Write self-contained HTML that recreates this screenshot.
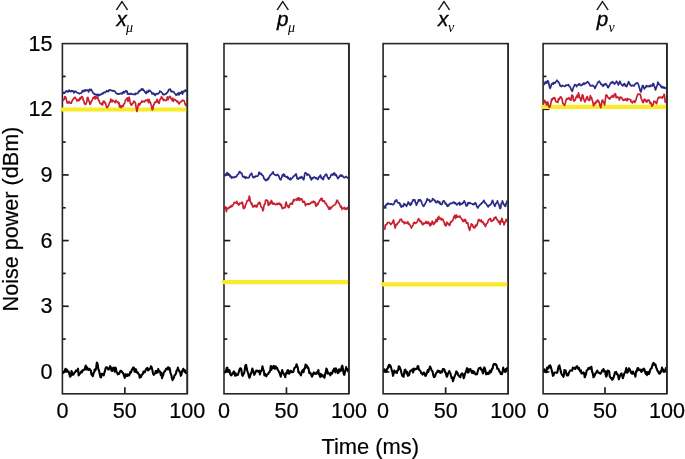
<!DOCTYPE html>
<html><head><meta charset="utf-8"><title>Noise power</title><style>
html,body{margin:0;padding:0;background:#fff;overflow:hidden;}
svg{display:block;filter:blur(0.4px);}
.t{font-family:"Liberation Sans",Arial,sans-serif;font-size:21.6px;fill:#000;stroke:#000;stroke-width:0.2px;}
.ti{font-family:"Liberation Sans",Arial,sans-serif;font-style:italic;font-size:20.6px;fill:#000;stroke:#000;stroke-width:0.35px;}
.hat{font-family:"Noto Sans CJK JP",sans-serif;font-size:15.5px;fill:#000;stroke:#000;stroke-width:0.35px;}
.sub{font-family:"Liberation Serif","Times New Roman",serif;font-style:italic;font-size:14px;fill:#000;}
.fr{fill:none;stroke:#262626;stroke-width:1.6px;}
.tk{stroke:#1e1e1e;stroke-width:1.7px;}
.yl{stroke:#f9eb28;stroke-width:4.2px;stroke-linecap:butt;}
.yc{fill:#f9eb28;}
.bl{fill:none;stroke:#2b2b85;stroke-width:1.7px;stroke-linejoin:round;}
.rd{fill:none;stroke:#c8202f;stroke-width:1.7px;stroke-linejoin:round;}
.bk{fill:none;stroke:#000;stroke-width:2.1px;stroke-linejoin:round;}
</style></head><body>
<svg width="685" height="459" viewBox="0 0 685 459">
<rect width="685" height="459" fill="#fff"/>
<rect x="62.40" y="43.60" width="124.90" height="350.20" class="fr"/>
<line x1="62.40" y1="371.91" x2="68.70" y2="371.91" class="tk"/>
<line x1="62.40" y1="339.08" x2="65.70" y2="339.08" class="tk"/>
<line x1="62.40" y1="306.25" x2="68.70" y2="306.25" class="tk"/>
<line x1="62.40" y1="273.42" x2="65.70" y2="273.42" class="tk"/>
<line x1="62.40" y1="240.59" x2="68.70" y2="240.59" class="tk"/>
<line x1="62.40" y1="207.76" x2="65.70" y2="207.76" class="tk"/>
<line x1="62.40" y1="174.93" x2="68.70" y2="174.93" class="tk"/>
<line x1="62.40" y1="142.09" x2="65.70" y2="142.09" class="tk"/>
<line x1="62.40" y1="109.26" x2="68.70" y2="109.26" class="tk"/>
<line x1="62.40" y1="76.43" x2="65.70" y2="76.43" class="tk"/>
<line x1="62.40" y1="109.48" x2="187.30" y2="109.48" class="yl"/>
<circle cx="62.40" cy="109.48" r="2.1" class="yc"/>
<polyline points="62.70,93.64 62.89,93.64 63.47,92.51 64.05,93.09 64.62,93.08 65.20,91.78 65.78,91.71 66.36,90.79 66.94,91.44 67.52,91.65 68.09,91.91 68.67,90.39 69.25,90.23 69.83,91.33 70.41,91.07 70.98,91.60 71.56,90.55 72.16,91.35 72.77,90.90 73.37,91.00 73.97,92.93 74.57,91.40 75.18,91.31 75.78,91.30 76.38,92.19 76.96,92.54 77.54,92.86 78.11,92.85 78.69,93.31 79.27,93.64 79.91,93.40 80.55,93.25 81.20,93.09 81.84,92.16 82.48,90.54 83.12,91.23 83.73,91.53 84.33,90.13 84.93,90.76 85.53,89.85 86.14,90.63 86.74,90.03 87.34,90.51 87.94,90.26 88.58,91.94 89.23,89.59 89.87,89.30 90.51,90.29 91.15,89.46 91.80,90.74 92.44,91.53 93.08,93.07 93.72,93.64 94.30,93.87 94.88,94.44 95.46,94.56 96.04,94.18 96.61,95.08 97.26,95.34 97.90,94.43 98.54,95.97 99.18,94.45 99.82,95.09 100.47,94.60 101.11,94.20 101.75,94.37 102.39,93.03 103.04,93.60 103.68,92.52 104.32,92.19 104.90,92.71 105.48,92.09 106.06,91.55 106.63,90.75 107.21,91.45 107.79,91.03 108.37,91.50 108.95,90.03 109.52,90.36 110.10,89.78 110.74,90.33 111.39,90.43 112.03,90.63 112.67,90.85 113.31,90.62 113.96,91.23 114.60,91.01 115.24,91.79 115.88,92.79 116.53,93.75 117.17,93.82 117.81,93.64 118.45,94.19 119.09,93.94 119.74,93.82 120.38,93.42 121.02,93.70 121.66,93.15 122.26,93.88 122.86,92.27 123.46,91.70 124.06,92.96 124.66,91.58 125.26,91.68 125.85,90.74 126.43,91.85 127.01,91.21 127.59,93.95 128.17,94.13 128.74,93.64 129.32,93.84 129.90,94.28 130.48,94.00 131.06,93.49 131.64,94.12 132.24,93.99 132.84,94.22 133.44,94.61 134.04,94.31 134.65,93.85 135.25,94.58 135.85,93.24 136.45,93.64 137.03,93.73 137.61,93.54 138.19,92.30 138.76,91.01 139.34,91.71 139.95,90.39 140.55,90.31 141.15,89.71 141.75,88.62 142.35,90.09 142.96,89.08 143.56,90.22 144.16,90.74 144.80,92.10 145.45,92.58 146.09,93.64 146.69,91.36 147.29,92.44 147.89,92.50 148.50,90.26 149.10,91.23 149.70,90.43 150.30,91.10 150.91,91.71 151.51,92.20 152.11,93.94 152.71,93.17 153.31,93.22 153.92,94.46 154.52,93.83 155.12,95.36 155.72,94.60 156.32,93.82 156.93,93.59 157.53,93.95 158.13,94.02 158.73,93.19 159.34,92.61 159.94,90.97 160.54,91.71 161.12,91.85 161.70,92.49 162.27,93.12 162.85,94.38 163.43,94.60 164.01,94.20 164.59,94.69 165.16,94.07 165.74,93.63 166.32,93.64 166.90,92.84 167.48,92.16 168.06,91.55 168.63,89.88 169.21,89.30 169.79,89.54 170.37,89.25 170.95,91.43 171.52,91.72 172.10,91.23 172.68,91.60 173.26,91.90 173.84,91.92 174.41,93.26 174.99,93.64 175.57,93.95 176.15,95.34 176.73,94.36 177.31,93.94 177.88,94.60 178.46,92.83 179.04,94.87 179.62,93.85 180.20,92.47 180.77,93.15 181.35,92.88 181.93,91.41 182.51,94.10 183.09,92.29 183.66,91.23 184.24,91.57 184.82,91.12 185.40,89.93 185.98,91.15 186.55,91.23 187.00,91.23" class="bl"/>
<polyline points="62.70,100.38 62.89,100.38 63.53,99.87 64.18,99.11 64.82,96.53 65.40,96.93 65.97,97.99 66.55,100.37 67.13,102.87 67.71,102.31 68.29,102.92 68.86,101.58 69.44,102.16 70.02,103.05 70.60,103.27 71.24,103.26 71.88,101.36 72.53,100.06 73.17,99.22 73.81,98.65 74.45,97.49 75.09,97.28 75.74,98.48 76.38,99.22 77.02,101.04 77.66,99.87 78.31,100.38 78.95,100.71 79.59,98.13 80.23,99.32 80.88,98.00 81.52,96.68 82.16,96.53 82.74,98.07 83.32,100.51 83.89,100.87 84.47,103.72 85.05,104.23 85.63,104.39 86.21,103.14 86.79,101.79 87.36,97.64 87.94,97.49 88.58,100.10 89.23,101.36 89.87,104.23 90.45,104.03 91.02,102.03 91.60,101.02 92.18,100.09 92.76,98.45 93.34,97.53 93.92,97.81 94.49,96.63 95.07,98.97 95.65,96.53 96.23,96.89 96.81,98.12 97.38,97.16 97.96,98.21 98.54,100.38 99.12,100.37 99.70,102.73 100.27,103.48 100.85,103.77 101.43,104.23 102.01,103.07 102.59,104.91 103.16,101.54 103.74,101.13 104.32,101.34 104.90,103.10 105.48,102.92 106.06,105.40 106.63,107.33 107.21,107.61 107.79,106.51 108.37,105.92 108.95,104.50 109.52,102.75 110.10,102.31 110.74,99.10 111.39,100.83 112.03,101.85 112.67,100.10 113.31,100.99 113.96,101.34 114.60,101.66 115.24,102.84 115.88,100.29 116.53,101.18 117.17,102.00 117.81,101.82 118.39,103.43 118.97,102.63 119.54,106.85 120.12,105.30 120.70,107.12 121.28,107.64 121.86,105.81 122.44,105.82 123.01,106.47 123.59,104.23 124.24,103.90 124.88,102.28 125.53,100.11 126.17,99.39 126.82,98.93 127.40,97.77 127.97,101.33 128.55,98.03 129.13,97.22 129.71,99.90 130.35,103.31 130.99,104.71 131.64,105.20 132.28,103.59 132.92,103.48 133.56,101.34 134.20,101.21 134.85,102.10 135.49,103.27 136.21,107.89 136.93,111.46 137.66,108.27 138.38,104.23 138.96,103.43 139.54,105.09 140.11,103.83 140.69,102.86 141.27,102.31 141.91,100.94 142.55,101.99 143.20,101.31 143.84,101.30 144.48,101.92 145.12,100.86 145.70,100.04 146.28,100.58 146.86,100.81 147.44,100.09 148.01,99.42 148.59,102.66 149.17,99.66 149.75,102.28 150.33,102.14 150.91,104.23 151.55,105.80 152.19,109.95 152.83,109.05 153.47,105.22 154.12,104.30 154.76,102.31 155.34,102.59 155.92,101.66 156.49,102.08 157.07,99.27 157.65,100.38 158.37,102.81 159.09,103.27 159.70,100.67 160.30,98.73 160.90,98.80 161.50,96.53 162.15,98.31 162.79,98.41 163.43,100.38 164.01,99.60 164.59,100.21 165.16,100.40 165.74,100.24 166.32,100.38 166.90,98.73 167.48,96.77 168.06,99.67 168.63,97.88 169.21,97.01 169.79,96.49 170.37,96.84 170.95,98.37 171.52,99.32 172.10,100.38 172.68,98.11 173.26,101.39 173.84,100.24 174.41,99.31 174.99,99.42 175.57,100.17 176.15,100.43 176.73,101.64 177.31,101.13 177.88,101.34 178.53,103.09 179.17,103.85 179.81,102.79 180.45,102.02 181.09,101.40 181.74,101.34 182.38,100.17 183.02,100.49 183.66,100.38 184.31,101.29 184.95,103.62 185.59,105.20 186.30,105.51 187.00,105.20" class="rd"/>
<polyline points="62.70,372.93 62.89,372.93 63.53,372.72 64.18,371.37 64.82,370.53 65.46,368.77 66.10,371.03 66.74,369.56 67.39,370.58 68.03,371.30 68.67,371.49 69.39,374.37 70.12,376.79 70.84,375.92 71.56,371.01 72.20,373.33 72.85,374.84 73.49,374.38 74.13,373.23 74.77,372.22 75.42,371.97 76.06,370.36 76.70,371.04 77.34,371.01 77.99,368.67 78.63,375.37 79.27,374.38 79.91,373.62 80.55,372.59 81.20,371.49 81.84,372.31 82.48,370.39 83.12,370.53 83.77,369.91 84.41,369.63 85.05,367.64 85.69,365.48 86.34,369.58 86.98,367.15 87.62,368.33 88.26,369.90 88.91,370.04 89.55,368.89 90.19,369.59 90.83,370.53 91.47,374.67 92.12,373.72 92.76,376.31 93.40,373.56 94.04,372.45 94.69,369.56 95.41,370.48 96.13,367.64 96.85,362.60 97.58,363.78 98.30,369.09 99.02,370.53 99.74,374.27 100.47,377.27 101.11,377.33 101.75,373.73 102.39,373.90 103.04,374.00 103.68,375.37 104.32,372.93 104.96,370.91 105.61,368.29 106.25,367.15 106.89,367.42 107.53,368.10 108.18,369.56 108.82,369.50 109.46,367.60 110.10,366.19 110.74,367.18 111.39,370.45 112.03,371.01 112.67,368.81 113.31,367.57 113.96,368.60 114.60,371.65 115.24,367.48 115.88,368.12 116.53,372.34 117.17,372.20 117.81,374.38 118.45,373.48 119.09,373.80 119.74,372.45 120.38,371.05 121.02,370.74 121.66,371.49 122.31,372.21 122.95,372.94 123.59,374.38 124.16,375.82 124.72,377.90 125.29,374.33 125.85,376.31 126.50,374.55 127.14,376.03 127.78,374.38 128.42,374.91 129.07,375.54 129.71,373.90 130.35,371.84 130.99,372.45 131.64,370.53 132.36,369.04 133.08,367.64 133.80,367.48 134.53,371.49 135.17,371.94 135.81,369.16 136.45,371.01 137.09,372.70 137.74,372.37 138.38,373.90 139.02,374.15 139.66,377.67 140.31,375.34 140.95,377.03 141.59,375.28 142.23,374.38 142.88,373.96 143.52,371.48 144.16,371.49 144.80,372.33 145.45,370.72 146.09,369.08 146.73,368.47 147.37,367.91 148.01,370.53 148.66,369.91 149.30,369.04 149.94,368.60 150.42,368.54 150.91,366.19 151.55,366.97 152.19,369.25 152.83,372.45 153.31,374.23 153.80,374.86 154.44,373.72 155.08,373.55 155.72,371.01 156.36,372.97 157.01,370.83 157.65,372.45 158.29,368.92 158.93,371.59 159.58,371.01 160.18,371.89 160.78,374.96 161.38,372.94 161.99,378.23 162.59,376.44 163.19,375.01 163.79,372.48 164.39,371.49 165.04,371.22 165.68,369.73 166.32,368.60 166.96,368.45 167.61,369.35 168.25,367.15 168.97,369.35 169.69,368.12 170.42,372.84 171.14,374.38 171.86,377.79 172.58,380.16 173.23,378.77 173.87,377.71 174.51,375.34 175.23,374.82 175.96,373.42 176.60,370.57 177.24,370.10 177.88,367.64 178.53,370.46 179.17,370.35 179.81,372.45 180.29,372.75 180.77,375.82 181.42,374.68 182.06,371.02 182.70,370.04 183.34,368.79 183.99,371.04 184.63,371.97 185.27,370.43 185.91,373.07 186.55,372.93 187.00,372.93" class="bk"/>
<line x1="187.30" y1="43.60" x2="187.30" y2="393.80" class="fr"/>
<line x1="124.85" y1="393.80" x2="124.85" y2="387.30" class="tk"/>
<text transform="translate(62.40,418.3) scale(1,1.030)" text-anchor="middle" class="t">0</text>
<text transform="translate(124.85,418.3) scale(1,1.030)" text-anchor="middle" class="t">50</text>
<text transform="translate(187.30,418.3) scale(1,1.030)" text-anchor="middle" class="t">100</text>
<text x="116.40" y="26" class="ti">x</text>
<text transform="translate(121.90,9.5) scale(1,0.76)" text-anchor="middle" class="hat">∧</text>
<text x="126.10" y="32.4" class="sub">μ</text>
<rect x="224.00" y="43.60" width="124.90" height="350.20" class="fr"/>
<line x1="224.00" y1="371.91" x2="230.30" y2="371.91" class="tk"/>
<line x1="224.00" y1="339.08" x2="227.30" y2="339.08" class="tk"/>
<line x1="224.00" y1="306.25" x2="230.30" y2="306.25" class="tk"/>
<line x1="224.00" y1="273.42" x2="227.30" y2="273.42" class="tk"/>
<line x1="224.00" y1="240.59" x2="230.30" y2="240.59" class="tk"/>
<line x1="224.00" y1="207.76" x2="227.30" y2="207.76" class="tk"/>
<line x1="224.00" y1="174.93" x2="230.30" y2="174.93" class="tk"/>
<line x1="224.00" y1="142.09" x2="227.30" y2="142.09" class="tk"/>
<line x1="224.00" y1="109.26" x2="230.30" y2="109.26" class="tk"/>
<line x1="224.00" y1="76.43" x2="227.30" y2="76.43" class="tk"/>
<line x1="224.00" y1="282.17" x2="348.90" y2="282.17" class="yl"/>
<circle cx="224.00" cy="282.17" r="2.1" class="yc"/>
<polyline points="224.30,175.98 224.72,175.98 225.27,174.45 225.81,174.81 226.36,173.85 226.90,173.08 227.45,172.71 227.99,173.84 228.53,173.84 229.08,174.18 229.62,174.89 230.17,176.80 230.71,176.23 231.26,176.58 231.80,178.16 232.46,177.00 233.11,177.19 233.76,177.58 234.42,177.37 235.07,176.52 235.61,176.81 236.16,176.83 236.70,176.34 237.25,174.89 237.79,174.48 238.34,174.08 238.88,172.86 239.43,171.62 239.97,171.71 240.51,172.97 241.06,172.91 241.60,173.26 242.15,174.25 242.69,176.68 243.24,176.52 243.78,177.13 244.33,176.48 244.87,176.84 245.42,178.42 245.96,177.07 246.50,177.06 247.05,177.77 247.59,177.81 248.14,177.85 248.68,177.61 249.23,177.14 249.77,175.61 250.32,174.75 250.86,174.06 251.41,173.26 251.95,174.16 252.50,175.96 253.04,177.50 253.58,177.61 254.13,176.83 254.67,177.44 255.22,176.23 255.76,176.52 256.31,176.00 256.85,176.14 257.40,176.22 257.94,175.98 258.49,174.66 259.03,172.24 259.57,172.71 260.12,174.03 260.66,173.45 261.21,173.66 261.75,174.91 262.30,174.89 262.84,175.65 263.39,176.23 263.93,178.49 264.48,179.25 265.02,179.81 265.56,179.32 266.11,180.61 266.65,180.34 267.20,179.92 267.74,178.31 268.29,179.40 268.83,177.61 269.47,176.90 270.10,175.14 270.74,175.20 271.37,174.09 272.01,173.70 272.64,172.17 273.19,171.92 273.73,173.93 274.28,174.41 274.82,174.81 275.37,174.89 275.91,175.16 276.46,175.46 277.00,174.96 277.54,174.35 278.20,175.55 278.85,176.04 279.50,178.33 280.16,179.34 280.81,179.79 281.36,178.37 281.90,176.65 282.45,174.89 282.99,175.69 283.53,174.03 284.08,176.10 284.62,174.70 285.17,176.52 285.87,176.70 286.57,177.21 287.27,176.52 287.81,178.37 288.36,177.57 288.90,178.78 289.45,179.13 289.99,179.79 290.53,178.02 291.08,179.40 291.62,178.51 292.17,178.12 292.71,177.61 293.37,176.30 294.02,176.09 294.67,175.41 295.33,175.38 295.98,173.80 296.52,175.37 297.07,178.69 297.61,177.66 298.16,179.25 298.81,178.57 299.47,178.16 300.12,177.15 300.77,178.03 301.43,176.52 301.97,177.77 302.51,177.41 303.06,179.07 303.60,179.79 304.15,178.17 304.69,174.23 305.24,172.71 305.87,173.20 306.51,173.32 307.14,175.26 307.78,174.45 308.41,174.31 309.05,174.89 309.59,175.45 310.14,177.82 310.68,177.25 311.23,179.81 311.77,179.25 312.32,177.88 312.86,178.29 313.41,177.82 313.95,177.10 314.50,177.07 315.04,177.40 315.58,178.39 316.13,178.00 316.67,177.96 317.22,179.25 317.76,179.45 318.31,178.87 318.85,176.89 319.40,176.85 319.94,175.98 320.49,175.08 321.03,177.95 321.57,177.15 322.12,178.28 322.66,179.25 323.32,179.62 323.97,176.54 324.62,176.35 325.28,174.70 325.93,174.35 326.48,174.22 327.02,175.62 327.56,177.48 328.11,177.49 328.65,179.25 329.31,177.93 329.96,177.76 330.61,176.24 331.27,174.55 331.92,174.35 332.47,175.08 333.01,174.01 333.55,174.58 334.10,172.86 334.64,173.26 335.30,175.41 335.95,174.64 336.60,175.48 337.26,177.38 337.91,178.70 338.46,177.74 339.00,177.37 339.54,176.10 340.09,176.07 340.63,174.89 341.18,176.17 341.72,175.39 342.27,175.38 342.81,176.42 343.36,177.07 344.01,177.60 344.66,177.60 345.32,176.88 345.97,176.49 346.62,177.07 347.17,177.27 347.71,178.05 348.26,177.61 348.60,177.61" class="bl"/>
<polyline points="224.30,206.48 224.72,206.48 225.27,207.55 225.81,207.42 226.36,211.66 226.90,208.65 227.45,208.97 227.99,208.42 228.53,208.46 229.08,207.25 229.62,207.56 230.28,206.28 230.93,207.03 231.58,205.47 232.24,206.23 232.89,204.84 233.54,204.30 234.20,202.34 234.85,202.50 235.50,202.65 236.16,203.21 236.81,201.36 237.47,203.56 238.12,203.56 238.77,205.05 239.43,204.30 239.97,202.97 240.51,203.19 241.06,203.59 241.60,203.32 242.15,202.12 242.69,203.24 243.24,208.05 243.78,208.65 244.33,206.92 244.87,207.72 245.42,205.08 245.96,204.30 246.50,202.77 247.05,200.83 247.59,200.90 248.14,199.94 248.68,200.51 249.23,196.13 249.77,197.47 250.32,201.72 250.86,202.12 251.41,204.37 251.95,203.46 252.50,205.89 253.04,207.05 253.58,206.48 254.13,205.89 254.67,205.38 255.22,206.82 255.76,205.39 256.31,205.48 256.85,207.05 257.40,205.02 257.94,204.30 258.49,202.83 259.03,203.71 259.57,202.25 260.12,203.21 260.66,205.52 261.21,206.99 261.75,207.36 262.30,208.39 262.84,210.83 263.39,209.59 263.93,206.08 264.48,204.30 265.02,204.12 265.56,200.38 266.11,199.94 266.65,200.31 267.20,200.68 267.74,200.83 268.29,205.39 268.83,203.21 269.49,204.74 270.14,202.12 270.79,203.38 271.45,200.47 272.10,202.12 272.64,203.86 273.19,204.12 273.73,203.07 274.28,203.50 274.82,204.30 275.37,204.56 275.91,204.78 276.46,203.93 277.00,203.42 277.54,204.30 278.09,203.76 278.63,203.31 279.18,204.30 279.72,203.21 280.27,204.40 280.81,205.64 281.36,204.75 281.90,207.17 282.45,208.65 282.99,208.04 283.53,207.69 284.08,207.89 284.62,207.48 285.17,207.56 285.67,203.27 286.18,202.12 286.72,204.47 287.27,205.81 287.81,205.68 288.36,207.56 289.01,207.36 289.66,204.87 290.32,203.65 290.97,203.88 291.62,203.21 292.28,204.19 292.93,201.81 293.58,199.67 294.24,200.86 294.89,199.94 295.54,199.37 296.20,199.22 296.85,200.33 297.50,198.15 298.16,199.94 298.70,197.88 299.25,198.01 299.79,200.45 300.34,199.20 300.88,198.85 301.43,198.80 301.97,199.26 302.51,201.21 303.06,202.37 303.60,201.57 304.26,201.40 304.91,202.98 305.56,205.71 306.22,204.43 306.87,204.30 307.52,203.78 308.18,204.26 308.83,203.80 309.49,204.17 310.14,203.21 310.77,203.35 311.41,202.20 312.04,202.32 312.68,202.56 313.32,201.18 313.95,201.57 314.50,202.46 315.04,202.20 315.58,205.20 316.13,206.30 316.67,205.39 317.22,203.72 317.76,204.69 318.31,203.17 318.85,202.12 319.40,201.32 319.94,200.00 320.49,199.59 321.03,198.31 321.57,200.09 322.12,198.45 322.66,201.46 323.21,201.03 323.75,201.25 324.30,200.82 324.84,202.34 325.39,203.49 325.93,203.21 326.48,204.26 327.02,205.75 327.56,206.18 328.11,207.06 328.65,208.65 329.31,209.42 329.96,207.09 330.61,208.76 331.27,207.75 331.92,207.02 332.47,206.35 333.01,205.97 333.55,205.47 334.10,205.30 334.64,204.84 335.30,204.20 335.95,203.45 336.60,200.93 337.26,200.10 337.91,201.57 338.46,203.07 339.00,203.16 339.54,204.31 340.09,205.81 340.63,207.02 341.29,206.26 341.94,209.33 342.59,208.06 343.25,208.20 343.90,208.65 344.55,207.40 345.21,209.19 345.86,208.80 346.51,209.37 347.17,207.56 347.88,208.55 348.60,207.56" class="rd"/>
<polyline points="224.30,372.45 224.89,372.45 225.49,371.99 226.09,370.44 226.70,367.99 227.30,367.64 228.02,371.53 228.74,370.53 229.39,370.04 230.03,373.46 230.67,374.86 231.31,375.39 231.96,374.43 232.60,372.93 233.24,373.59 233.88,371.39 234.53,372.45 235.17,375.77 235.81,373.53 236.45,375.34 237.18,375.07 237.90,374.86 238.54,372.81 239.18,370.71 239.82,368.60 240.55,368.21 241.27,369.08 241.99,374.41 242.72,375.82 243.36,374.17 244.00,373.56 244.64,370.53 245.36,365.71 246.09,364.74 246.81,368.89 247.53,371.49 248.18,373.34 248.82,376.20 249.46,377.75 250.18,375.88 250.91,373.42 251.63,371.59 252.35,368.60 252.99,370.60 253.64,372.90 254.28,374.86 254.92,373.62 255.56,372.29 256.20,370.53 256.85,370.95 257.49,370.73 258.13,371.49 258.73,372.19 259.34,370.71 259.94,374.44 260.54,371.97 261.18,371.14 261.82,370.05 262.47,366.19 263.11,369.13 263.75,370.73 264.39,375.34 265.04,373.82 265.68,375.04 266.32,376.31 266.96,374.76 267.61,374.25 268.25,373.90 268.89,372.18 269.53,372.12 270.18,370.04 270.82,366.02 271.46,369.88 272.10,366.67 272.70,366.74 273.31,367.84 273.91,365.93 274.51,368.60 275.11,368.68 275.72,366.34 276.32,368.51 276.92,367.64 277.56,369.29 278.20,370.44 278.85,371.49 279.49,373.06 280.13,374.70 280.77,376.79 281.50,373.03 282.22,370.04 282.86,372.78 283.50,373.37 284.15,374.86 284.69,374.88 285.24,377.26 285.79,374.12 286.34,372.59 286.89,373.42 287.47,370.46 288.05,370.03 288.62,372.99 289.20,373.74 289.78,372.45 290.36,371.08 290.94,370.84 291.52,371.94 292.09,372.25 292.67,371.97 293.27,372.05 293.88,369.67 294.48,367.93 295.08,367.64 295.80,366.80 296.53,364.26 297.17,365.82 297.81,367.94 298.45,372.45 299.05,371.81 299.66,373.50 300.26,374.10 300.86,375.34 301.58,372.94 302.31,370.53 302.95,369.94 303.59,372.17 304.23,368.60 304.88,368.47 305.52,364.66 306.16,366.67 306.76,365.40 307.36,367.84 307.97,367.08 308.57,368.60 309.29,373.20 310.01,372.45 310.66,373.34 311.30,374.86 311.94,376.79 312.58,375.48 313.23,373.59 313.87,372.45 314.51,373.60 315.15,373.08 315.80,373.90 316.44,373.79 317.08,372.16 317.72,372.45 318.36,369.97 319.01,374.57 319.65,374.86 320.23,377.00 320.81,373.86 321.38,374.45 321.96,376.23 322.54,375.34 323.18,375.50 323.82,377.09 324.47,377.75 325.11,374.41 325.75,372.40 326.39,368.60 327.04,369.72 327.68,373.67 328.32,372.45 328.96,373.47 329.61,374.06 330.25,375.34 330.89,372.92 331.53,374.18 332.18,373.42 332.82,370.64 333.46,371.00 334.10,368.60 334.70,369.54 335.31,372.35 335.91,368.34 336.51,369.56 337.15,370.85 337.80,373.11 338.44,372.93 339.08,369.31 339.72,371.49 340.36,369.56 341.01,370.55 341.65,367.07 342.29,365.71 342.93,368.73 343.58,373.34 344.22,374.86 344.86,372.64 345.50,370.09 346.15,367.15 346.79,369.66 347.43,369.08 348.07,371.49 348.60,371.49" class="bk"/>
<line x1="348.90" y1="43.60" x2="348.90" y2="393.80" class="fr"/>
<line x1="286.45" y1="393.80" x2="286.45" y2="387.30" class="tk"/>
<text transform="translate(224.00,418.3) scale(1,1.030)" text-anchor="middle" class="t">0</text>
<text transform="translate(286.45,418.3) scale(1,1.030)" text-anchor="middle" class="t">50</text>
<text transform="translate(348.90,418.3) scale(1,1.030)" text-anchor="middle" class="t">100</text>
<text x="276.90" y="26" class="ti">p</text>
<text transform="translate(282.80,9.5) scale(1,0.76)" text-anchor="middle" class="hat">∧</text>
<text x="287.90" y="32.4" class="sub">μ</text>
<rect x="383.10" y="43.60" width="125.10" height="350.20" class="fr"/>
<line x1="383.10" y1="371.91" x2="389.40" y2="371.91" class="tk"/>
<line x1="383.10" y1="339.08" x2="386.40" y2="339.08" class="tk"/>
<line x1="383.10" y1="306.25" x2="389.40" y2="306.25" class="tk"/>
<line x1="383.10" y1="273.42" x2="386.40" y2="273.42" class="tk"/>
<line x1="383.10" y1="240.59" x2="389.40" y2="240.59" class="tk"/>
<line x1="383.10" y1="207.76" x2="386.40" y2="207.76" class="tk"/>
<line x1="383.10" y1="174.93" x2="389.40" y2="174.93" class="tk"/>
<line x1="383.10" y1="142.09" x2="386.40" y2="142.09" class="tk"/>
<line x1="383.10" y1="109.26" x2="389.40" y2="109.26" class="tk"/>
<line x1="383.10" y1="76.43" x2="386.40" y2="76.43" class="tk"/>
<line x1="383.10" y1="284.36" x2="508.20" y2="284.36" class="yl"/>
<circle cx="383.10" cy="284.36" r="2.1" class="yc"/>
<polyline points="383.40,206.88 383.72,206.88 384.27,206.56 384.81,207.26 385.36,205.59 385.90,205.79 386.45,204.03 386.99,204.60 387.53,204.15 388.08,203.07 388.62,203.60 389.17,203.96 389.71,203.85 390.26,204.16 390.80,203.95 391.35,203.96 391.89,204.40 392.44,204.42 392.98,204.70 393.63,204.34 394.29,203.18 394.94,201.06 395.59,201.27 396.25,199.80 396.79,200.50 397.34,201.85 397.88,202.74 398.43,202.82 398.97,203.07 399.51,202.81 400.06,205.06 400.60,204.47 401.15,207.14 401.69,206.88 402.24,206.00 402.78,205.74 403.33,206.42 403.87,203.69 404.42,204.16 404.96,204.79 405.50,204.66 406.05,205.54 406.59,206.34 407.14,204.46 407.68,203.92 408.23,201.98 408.77,202.68 409.32,203.89 409.86,204.89 410.41,205.25 410.95,203.18 411.50,203.99 412.04,201.90 412.58,200.89 413.13,199.67 413.67,200.01 414.22,200.68 414.76,199.80 415.31,202.30 415.85,203.08 416.40,205.25 416.94,204.02 417.49,202.74 418.03,201.87 418.57,199.80 419.12,199.92 419.66,200.75 420.21,199.73 420.75,200.35 421.30,201.17 421.84,203.22 422.39,204.46 422.93,205.18 423.48,206.34 424.02,205.83 424.56,204.63 425.11,204.02 425.65,202.52 426.20,202.04 426.74,200.37 427.29,198.71 427.83,199.94 428.38,199.85 428.92,200.40 429.47,199.95 430.01,201.98 430.66,201.76 431.32,200.98 431.97,200.75 432.62,198.72 433.28,199.26 433.82,199.71 434.37,200.35 434.91,200.26 435.46,201.98 436.11,202.50 436.76,202.59 437.42,200.94 438.07,201.89 438.72,201.44 439.27,203.25 439.81,202.12 440.36,204.16 440.90,204.16 441.55,204.56 442.21,204.07 442.86,201.43 443.51,200.96 444.17,200.89 444.81,202.18 445.44,203.88 446.08,203.45 446.72,204.85 447.36,206.34 448.01,205.06 448.66,205.78 449.32,204.10 449.97,204.15 450.62,203.07 451.28,203.32 451.93,203.42 452.58,202.75 453.24,202.48 453.89,201.98 454.44,203.31 454.98,203.44 455.52,202.90 456.07,203.90 456.61,204.70 457.16,204.90 457.70,203.99 458.25,203.25 458.79,203.18 459.34,202.52 459.88,205.06 460.43,203.38 460.97,204.12 461.51,204.16 462.06,203.86 462.60,202.75 463.15,203.01 463.69,202.15 464.24,200.89 464.78,202.44 465.33,202.57 465.87,205.42 466.42,205.79 466.96,205.79 467.50,204.72 468.05,202.56 468.59,203.65 469.14,203.07 469.79,202.60 470.45,203.43 471.10,203.48 471.75,203.50 472.41,204.16 473.06,204.64 473.71,203.86 474.37,204.34 475.02,202.76 475.67,203.07 476.22,204.25 476.76,206.44 477.31,207.02 477.85,207.97 478.40,206.83 478.94,205.96 479.49,205.39 480.03,204.94 480.57,204.16 481.23,203.89 481.88,202.79 482.53,202.41 483.19,201.70 483.84,200.35 484.39,201.31 484.93,202.85 485.48,203.33 486.02,203.61 486.56,204.39 487.11,205.22 487.65,206.12 488.20,206.88 488.74,205.95 489.29,205.03 489.83,205.34 490.38,204.45 490.92,204.16 491.47,203.32 492.01,201.32 492.55,200.35 493.10,201.97 493.64,203.53 494.19,204.62 494.73,206.34 495.28,205.44 495.82,203.78 496.37,202.87 496.91,202.55 497.46,200.89 498.00,202.73 498.54,204.01 499.09,205.05 499.63,207.49 500.18,208.51 500.72,207.92 501.27,203.42 501.81,203.52 502.36,200.89 502.90,202.18 503.45,203.82 503.99,204.95 504.53,204.68 505.08,206.34 505.62,206.12 506.17,203.31 506.71,202.16 507.26,200.89 507.90,200.89" class="bl"/>
<polyline points="383.40,228.12 384.27,228.12 384.81,229.18 385.36,224.84 385.90,224.85 386.45,224.74 386.99,223.72 387.53,222.67 388.08,222.54 388.62,222.67 389.17,222.38 389.71,223.01 390.26,223.71 390.80,224.55 391.35,223.76 391.89,223.01 392.44,222.93 392.98,221.32 393.52,219.95 394.07,222.74 394.61,225.14 395.16,228.12 395.70,226.03 396.25,224.33 396.79,224.72 397.34,223.76 397.88,222.87 398.43,222.67 398.97,221.99 399.51,221.04 400.06,219.48 400.60,219.74 401.15,219.07 401.69,219.95 402.24,221.64 402.78,221.30 403.33,222.30 403.87,222.05 404.42,223.76 404.96,222.24 405.50,222.69 406.05,222.94 406.59,223.28 407.14,222.67 407.79,221.77 408.45,224.24 409.10,223.73 409.75,224.71 410.41,225.94 410.95,226.64 411.50,228.12 412.04,226.27 412.58,225.78 413.13,224.82 413.67,222.67 414.22,223.07 414.76,222.35 415.31,223.42 415.85,223.22 416.40,222.70 416.94,222.36 417.49,220.96 418.03,219.95 418.57,218.52 419.12,219.58 419.66,220.14 420.21,221.65 420.75,221.04 421.30,221.79 421.84,223.77 422.39,224.11 422.93,224.85 423.48,223.08 424.02,223.74 424.56,223.69 425.11,222.67 425.65,223.11 426.20,221.37 426.74,223.35 427.29,222.47 427.83,223.22 428.38,221.77 428.92,223.95 429.47,223.27 430.01,225.94 430.55,223.40 431.10,224.83 431.64,224.60 432.19,221.04 432.73,222.55 433.28,222.48 433.82,224.46 434.37,223.22 434.91,223.07 435.46,221.37 436.00,219.53 436.54,221.58 437.09,221.68 437.63,217.86 438.18,219.41 438.72,216.41 439.27,218.43 439.81,218.99 440.36,218.86 440.90,218.06 441.45,220.03 441.99,219.03 442.53,219.43 443.08,219.41 443.62,221.59 444.17,222.40 444.71,224.85 445.37,224.45 446.03,225.98 446.70,222.23 447.36,222.67 447.90,223.45 448.45,224.49 448.99,224.12 449.53,225.40 450.08,224.33 450.62,221.75 451.17,222.05 451.71,221.58 452.26,220.48 452.80,220.44 453.35,219.19 453.89,216.60 454.44,216.14 454.98,215.21 455.52,218.32 456.07,217.61 456.61,215.07 457.16,217.23 457.81,216.95 458.47,216.50 459.12,216.90 459.77,215.92 460.43,217.77 460.97,217.99 461.51,218.57 462.06,219.53 462.60,220.50 463.15,221.61 463.69,220.94 464.24,219.65 464.78,221.04 465.33,219.60 465.87,221.12 466.42,223.11 466.96,223.23 467.50,222.67 468.05,223.95 468.59,227.59 469.14,228.77 469.68,230.30 470.23,227.48 470.77,226.32 471.32,223.76 471.86,224.60 472.41,224.52 472.95,226.15 473.50,227.57 474.15,227.26 474.80,227.97 475.46,225.20 476.11,226.03 476.76,225.40 477.31,223.88 477.85,222.31 478.40,219.66 478.94,219.41 479.49,220.75 480.03,220.93 480.57,221.36 481.12,219.95 481.66,220.93 482.21,222.47 482.75,222.09 483.30,222.13 483.84,224.18 484.39,223.95 484.93,225.59 485.48,226.49 486.02,225.18 486.56,223.50 487.11,223.17 487.65,222.67 488.20,220.58 488.74,219.63 489.29,219.40 489.83,218.86 490.49,218.45 491.14,221.32 491.79,221.25 492.45,220.78 493.10,219.95 493.64,220.17 494.19,217.98 494.73,218.57 495.28,217.77 495.82,216.99 496.37,218.48 496.91,219.31 497.46,220.50 498.00,220.65 498.54,222.42 499.09,221.32 499.63,222.67 500.18,224.40 500.72,220.83 501.27,221.54 501.81,218.46 502.36,219.41 502.90,222.10 503.45,221.79 503.99,224.85 504.53,223.67 505.08,222.10 505.62,221.57 506.17,219.41 506.71,220.72 507.26,221.23 507.80,221.58 507.90,221.58" class="rd"/>
<polyline points="383.40,370.53 383.89,370.53 384.53,369.46 385.18,370.76 385.82,371.97 386.46,371.25 387.10,368.83 387.74,368.60 388.35,366.28 388.95,364.83 389.55,366.72 390.15,365.23 390.88,366.97 391.60,369.56 392.32,371.72 393.04,375.82 393.69,373.33 394.33,370.43 394.97,372.45 395.61,372.55 396.26,371.48 396.90,372.93 397.54,370.45 398.18,370.05 398.82,366.19 399.55,366.80 400.27,368.60 400.99,370.92 401.72,373.90 402.36,375.85 403.00,375.43 403.64,376.79 404.12,373.43 404.61,370.04 405.25,369.63 405.89,371.06 406.53,373.42 407.18,371.96 407.82,375.75 408.46,375.34 409.18,374.80 409.91,371.49 410.55,370.49 411.19,370.59 411.83,370.53 412.47,369.33 413.12,372.42 413.76,368.60 414.40,369.93 415.04,368.74 415.69,369.08 416.33,368.94 416.97,368.76 417.61,366.19 418.22,366.06 418.82,369.12 419.42,370.19 420.02,370.53 420.66,371.53 421.31,373.42 421.95,373.42 422.59,374.57 423.23,372.83 423.88,372.45 424.52,373.17 425.16,375.84 425.80,375.82 426.45,374.13 427.09,372.51 427.73,370.04 428.31,371.97 428.89,369.58 429.46,368.57 430.04,366.57 430.62,367.64 431.26,369.41 431.91,370.69 432.55,371.49 433.27,375.15 433.99,377.27 434.64,376.71 435.28,375.61 435.92,373.42 436.56,372.80 437.20,371.72 437.85,370.53 438.45,371.89 439.05,370.97 439.65,371.23 440.26,372.93 440.90,371.49 441.54,372.48 442.18,371.97 442.82,368.95 443.47,369.53 444.11,369.08 444.66,370.46 445.21,372.59 445.76,372.53 446.31,375.39 446.85,376.79 447.46,375.45 448.06,373.32 448.66,372.60 449.26,371.01 449.86,372.66 450.47,373.36 451.07,376.08 451.67,378.23 452.31,377.54 452.96,381.20 453.60,379.20 454.32,377.06 455.04,375.34 455.69,373.53 456.33,371.43 456.97,371.97 457.61,373.31 458.26,375.05 458.90,375.82 459.62,376.66 460.34,377.27 460.99,374.42 461.63,373.53 462.27,373.42 462.99,374.59 463.72,378.23 464.36,376.60 465.00,373.44 465.64,372.45 466.36,370.24 467.09,368.12 467.81,372.49 468.53,372.45 469.18,369.16 469.82,369.96 470.46,369.08 471.18,371.04 471.91,372.93 472.55,370.71 473.19,373.28 473.83,371.49 474.47,372.19 475.12,373.93 475.76,374.38 476.40,374.17 477.04,374.21 477.69,371.49 478.41,369.09 479.13,368.12 479.77,367.91 480.42,367.62 481.06,369.56 481.78,369.33 482.50,371.97 483.11,373.36 483.71,369.80 484.31,367.42 484.91,368.60 485.55,371.25 486.20,374.31 486.84,373.90 487.48,372.80 488.12,373.90 488.77,373.90 489.41,371.81 490.05,370.58 490.69,372.45 491.34,371.00 491.98,368.52 492.62,368.60 493.34,364.82 494.07,363.78 494.71,364.02 495.35,364.63 495.99,364.26 496.64,365.50 497.28,368.74 497.92,368.60 498.64,369.32 499.36,371.49 500.01,371.77 500.65,373.89 501.29,373.42 501.93,374.23 502.58,372.05 503.22,367.64 503.86,370.28 504.50,370.74 505.15,371.97 505.79,369.12 506.43,371.23 507.07,368.12 507.90,368.12" class="bk"/>
<line x1="508.20" y1="43.60" x2="508.20" y2="393.80" class="fr"/>
<line x1="445.65" y1="393.80" x2="445.65" y2="387.30" class="tk"/>
<text transform="translate(383.10,418.3) scale(1,1.030)" text-anchor="middle" class="t">0</text>
<text transform="translate(445.65,418.3) scale(1,1.030)" text-anchor="middle" class="t">50</text>
<text transform="translate(508.20,418.3) scale(1,1.030)" text-anchor="middle" class="t">100</text>
<text x="437.90" y="26" class="ti">x</text>
<text transform="translate(444.00,9.5) scale(1,0.76)" text-anchor="middle" class="hat">∧</text>
<text x="448.10" y="32.4" class="sub">ν</text>
<rect x="543.10" y="43.60" width="123.80" height="350.20" class="fr"/>
<line x1="543.10" y1="371.91" x2="549.40" y2="371.91" class="tk"/>
<line x1="543.10" y1="339.08" x2="546.40" y2="339.08" class="tk"/>
<line x1="543.10" y1="306.25" x2="549.40" y2="306.25" class="tk"/>
<line x1="543.10" y1="273.42" x2="546.40" y2="273.42" class="tk"/>
<line x1="543.10" y1="240.59" x2="549.40" y2="240.59" class="tk"/>
<line x1="543.10" y1="207.76" x2="546.40" y2="207.76" class="tk"/>
<line x1="543.10" y1="174.93" x2="549.40" y2="174.93" class="tk"/>
<line x1="543.10" y1="142.09" x2="546.40" y2="142.09" class="tk"/>
<line x1="543.10" y1="109.26" x2="549.40" y2="109.26" class="tk"/>
<line x1="543.10" y1="76.43" x2="546.40" y2="76.43" class="tk"/>
<line x1="543.10" y1="106.85" x2="666.90" y2="106.85" class="yl"/>
<circle cx="543.10" cy="106.85" r="2.1" class="yc"/>
<polyline points="543.40,84.60 543.89,84.60 544.61,83.89 545.34,81.71 546.06,83.02 546.78,83.15 547.26,81.12 547.74,80.74 548.35,81.50 548.95,84.54 549.55,86.99 550.15,88.45 550.80,86.76 551.44,84.36 552.08,83.64 552.68,83.21 553.28,84.26 553.89,82.44 554.49,83.15 555.09,83.06 555.69,82.02 556.30,81.28 556.90,80.26 557.54,81.53 558.18,81.54 558.82,82.67 559.43,83.56 560.03,85.69 560.63,85.33 561.23,86.53 561.84,86.15 562.44,85.44 563.04,85.88 563.64,86.04 564.24,86.25 564.85,86.32 565.45,85.71 566.05,85.08 566.65,85.34 567.26,85.19 567.86,84.92 568.46,84.60 569.10,86.17 569.74,86.44 570.39,87.49 571.03,89.42 571.67,90.02 572.31,91.34 572.92,88.70 573.52,87.20 574.12,86.17 574.72,84.60 575.36,84.97 576.01,85.16 576.65,86.53 577.25,85.35 577.85,85.19 578.46,84.60 579.06,83.64 579.70,84.79 580.34,84.41 580.99,85.56 581.59,85.19 582.19,84.98 582.79,83.97 583.39,83.15 584.04,84.37 584.68,83.19 585.32,83.64 585.92,83.15 586.53,82.78 587.13,81.95 587.73,81.71 588.45,82.64 589.18,83.64 589.90,84.98 590.62,86.04 591.22,85.91 591.82,85.51 592.43,85.42 593.03,85.56 593.67,86.48 594.31,86.58 594.96,88.45 595.56,87.36 596.16,85.39 596.76,84.69 597.36,83.64 598.01,82.19 598.65,82.09 599.29,81.23 599.93,82.13 600.58,83.32 601.22,84.60 601.82,84.40 602.42,85.15 603.03,86.27 603.63,85.56 604.19,84.01 604.76,84.91 605.32,84.25 605.89,83.64 606.53,84.69 607.18,85.45 607.82,87.49 608.40,87.56 608.97,85.87 609.55,85.48 610.13,83.80 610.71,83.15 611.35,82.22 611.99,82.83 612.64,81.71 613.28,82.95 613.92,83.14 614.56,84.12 615.20,83.03 615.85,82.56 616.49,81.23 617.13,82.04 617.77,83.30 618.42,85.08 619.14,83.13 619.86,81.23 620.46,82.91 621.07,83.91 621.67,84.59 622.27,85.56 622.87,85.88 623.47,84.51 624.08,83.83 624.68,83.64 625.32,85.99 625.96,85.27 626.61,86.53 627.25,85.28 627.89,83.65 628.53,81.71 629.14,82.75 629.74,83.77 630.34,85.01 630.94,85.56 631.54,85.89 632.15,85.22 632.75,85.57 633.35,85.56 633.95,85.90 634.55,85.03 635.16,83.87 635.76,83.64 636.40,83.52 637.04,82.74 637.69,83.15 638.33,84.16 638.97,86.38 639.61,88.45 640.34,91.09 641.06,91.82 641.78,88.33 642.50,85.56 643.15,85.53 643.79,87.75 644.43,88.93 645.07,87.41 645.72,87.13 646.36,85.56 647.00,86.62 647.64,86.02 648.28,86.53 648.86,86.41 649.44,85.62 650.02,86.67 650.60,85.33 651.18,85.56 651.78,85.10 652.38,86.01 652.98,83.58 653.58,83.64 654.23,85.83 654.87,87.79 655.51,89.90 656.11,88.25 656.72,86.33 657.32,85.00 657.92,82.19 658.56,83.45 659.20,84.48 659.85,85.08 660.49,85.17 661.13,86.93 661.77,87.49 662.42,86.55 663.06,87.89 663.70,87.01 664.30,87.34 664.91,88.31 665.51,87.81 666.11,88.45 666.60,88.45" class="bl"/>
<polyline points="543.40,103.87 543.41,103.87 544.05,102.62 544.69,100.42 545.34,101.46 545.94,103.03 546.54,104.92 547.14,102.33 547.74,101.94 548.39,105.09 549.03,106.87 549.67,107.24 550.31,105.42 550.96,102.68 551.60,99.05 552.32,99.83 553.04,98.09 553.65,98.42 554.25,97.63 554.85,98.04 555.45,100.50 556.05,101.69 556.66,101.95 557.26,101.90 557.86,102.42 558.46,98.62 559.07,99.51 559.67,98.38 560.27,97.12 560.91,96.86 561.55,97.91 562.20,99.53 562.80,103.28 563.40,103.86 564.00,104.72 564.61,105.31 565.25,103.55 565.89,100.66 566.53,99.05 567.18,98.34 567.82,99.16 568.46,98.09 569.10,97.82 569.74,99.12 570.39,100.01 571.03,100.18 571.67,95.41 572.31,95.20 572.96,96.28 573.60,100.97 574.24,100.98 574.84,100.42 575.45,99.24 576.05,97.19 576.65,97.12 577.25,95.11 577.85,97.46 578.46,92.89 579.06,95.20 579.70,97.62 580.34,98.45 580.99,100.98 581.63,98.95 582.27,94.88 582.91,95.20 583.55,98.41 584.20,100.33 584.84,101.94 585.48,100.65 586.12,99.18 586.77,97.12 587.37,96.50 587.97,99.00 588.57,100.17 589.18,100.50 589.78,99.69 590.38,95.64 590.98,98.21 591.58,97.61 592.23,100.45 592.87,101.85 593.51,105.80 594.23,104.42 594.96,102.91 595.56,103.58 596.16,101.36 596.76,102.16 597.36,100.01 598.01,100.39 598.65,101.15 599.29,102.91 600.01,105.59 600.74,107.72 601.38,104.19 602.02,100.75 602.66,100.01 603.31,101.98 603.95,103.22 604.59,104.83 605.24,100.65 605.89,95.20 606.53,94.90 607.18,96.01 607.82,97.12 608.46,98.29 609.10,97.88 609.74,99.05 610.39,97.85 611.03,97.37 611.67,96.16 612.31,95.67 612.96,97.06 613.60,97.12 614.24,94.40 614.88,95.41 615.53,93.75 616.17,97.77 616.81,96.70 617.45,97.12 618.09,97.65 618.74,97.30 619.38,100.01 620.10,97.31 620.82,97.12 621.47,97.77 622.11,98.21 622.75,100.01 623.35,100.31 623.96,99.69 624.56,100.12 625.16,99.05 625.74,98.90 626.32,100.11 626.89,100.82 627.47,98.46 628.05,99.53 628.65,99.42 629.26,99.39 629.86,99.44 630.46,99.53 631.10,101.89 631.74,101.41 632.39,102.91 632.99,101.82 633.59,101.22 634.19,100.95 634.80,102.42 635.40,100.63 636.00,100.02 636.60,97.42 637.20,95.68 637.93,94.09 638.65,94.23 639.29,94.38 639.93,93.90 640.58,95.20 641.22,98.54 641.86,99.83 642.50,101.94 643.15,102.56 643.79,100.73 644.43,99.05 645.07,100.70 645.72,99.97 646.36,101.94 646.96,102.01 647.56,100.57 648.16,99.92 648.77,100.01 649.41,101.02 650.05,103.38 650.69,102.42 651.34,103.78 651.98,106.22 652.62,104.83 653.26,104.45 653.91,101.14 654.55,101.46 655.27,101.65 655.99,102.91 656.59,103.64 657.20,100.92 657.80,99.06 658.40,97.61 659.00,97.04 659.61,97.59 660.21,97.74 660.81,97.12 661.53,97.21 662.26,98.09 662.90,96.79 663.54,95.87 664.18,94.23 664.66,96.98 665.15,101.94 665.87,102.21 666.59,102.91 666.60,102.91" class="rd"/>
<polyline points="543.40,370.53 543.88,370.53 544.52,369.43 545.15,371.20 545.79,371.97 546.42,372.28 547.06,367.57 547.70,368.60 548.29,368.61 548.89,366.14 549.48,367.28 550.08,365.23 550.80,366.99 551.51,369.56 552.23,372.51 552.94,375.82 553.58,375.21 554.21,372.88 554.85,372.45 555.48,372.56 556.12,372.52 556.75,372.93 557.39,372.33 558.03,368.77 558.66,366.19 559.38,365.40 560.09,368.60 560.81,371.62 561.52,373.90 562.16,375.08 562.79,375.77 563.43,376.79 563.91,374.95 564.38,370.04 565.02,372.32 565.65,370.45 566.29,373.42 566.93,375.53 567.56,374.05 568.20,375.34 568.91,372.76 569.63,371.49 570.26,370.41 570.90,370.53 571.53,370.53 572.17,370.64 572.80,367.63 573.44,368.60 574.08,368.40 574.71,367.84 575.35,369.08 575.98,367.58 576.62,366.34 577.25,366.19 577.85,367.69 578.45,368.99 579.04,367.98 579.64,370.53 580.27,371.47 580.91,370.24 581.55,373.42 582.18,372.98 582.82,373.37 583.45,372.45 584.09,373.04 584.72,377.28 585.36,375.82 585.99,374.22 586.63,370.78 587.27,370.04 587.84,369.75 588.41,367.99 588.98,368.95 589.55,367.72 590.13,367.64 590.76,368.73 591.40,366.82 592.03,371.49 592.75,373.20 593.46,377.27 594.10,376.63 594.74,375.36 595.37,373.42 596.01,373.16 596.64,371.59 597.28,370.53 597.87,372.14 598.47,372.66 599.07,372.76 599.66,372.93 600.30,373.78 600.93,373.19 601.57,371.97 602.20,370.28 602.84,370.53 603.48,369.08 604.02,371.60 604.56,371.80 605.11,371.19 605.65,374.74 606.19,376.79 606.79,375.51 607.38,370.76 607.98,370.56 608.58,371.01 609.17,371.26 609.77,376.43 610.36,377.21 610.96,378.23 611.59,378.01 612.23,379.79 612.87,379.20 613.58,377.51 614.30,375.34 614.93,372.24 615.57,372.47 616.20,371.97 616.84,374.22 617.47,374.04 618.11,375.82 618.83,379.32 619.54,377.27 620.18,375.28 620.81,374.08 621.45,373.42 622.16,375.42 622.88,378.23 623.51,376.22 624.15,374.20 624.78,372.45 625.50,371.70 626.21,368.12 626.93,372.64 627.65,372.45 628.28,370.92 628.92,368.24 629.55,369.08 630.27,370.40 630.98,372.93 631.62,372.43 632.25,373.83 632.89,371.49 633.52,373.15 634.16,373.40 634.80,374.38 635.43,376.62 636.07,371.01 636.70,371.49 637.42,368.30 638.13,368.12 638.77,370.24 639.40,369.76 640.04,369.56 640.76,370.72 641.47,371.97 642.07,369.54 642.66,370.64 643.26,369.70 643.85,368.60 644.49,369.45 645.13,372.15 645.76,373.90 646.40,372.01 647.03,375.13 647.67,373.90 648.30,371.88 648.94,373.99 649.58,372.45 650.21,369.91 650.85,368.59 651.48,368.60 652.20,365.83 652.91,363.78 653.55,362.82 654.18,364.85 654.82,364.26 655.46,364.50 656.09,367.20 656.73,368.60 657.44,370.79 658.16,371.49 658.79,373.09 659.43,373.75 660.06,373.42 660.70,371.14 661.34,371.84 661.97,367.64 662.61,368.83 663.24,369.71 663.88,371.97 664.51,370.93 665.15,371.59 665.78,368.12 666.60,368.12" class="bk"/>
<line x1="666.90" y1="43.60" x2="666.90" y2="393.80" class="fr"/>
<line x1="605.00" y1="393.80" x2="605.00" y2="387.30" class="tk"/>
<text transform="translate(543.10,418.3) scale(1,1.030)" text-anchor="middle" class="t">0</text>
<text transform="translate(605.00,418.3) scale(1,1.030)" text-anchor="middle" class="t">50</text>
<text transform="translate(666.90,418.3) scale(1,1.030)" text-anchor="middle" class="t">100</text>
<text x="596.70" y="26" class="ti">p</text>
<text transform="translate(602.50,9.5) scale(1,0.76)" text-anchor="middle" class="hat">∧</text>
<text x="608.50" y="32.4" class="sub">ν</text>
<text transform="translate(52.5,379.11) scale(1,1.030)" text-anchor="end" class="t">0</text>
<text transform="translate(52.5,313.45) scale(1,1.030)" text-anchor="end" class="t">3</text>
<text transform="translate(52.5,247.79) scale(1,1.030)" text-anchor="end" class="t">6</text>
<text transform="translate(52.5,182.12) scale(1,1.030)" text-anchor="end" class="t">9</text>
<text transform="translate(52.5,116.46) scale(1,1.030)" text-anchor="end" class="t">12</text>
<text transform="translate(52.5,50.80) scale(1,1.030)" text-anchor="end" class="t">15</text>
<text transform="translate(18.4,219.05) rotate(-90) scale(1,1.030)" text-anchor="middle" class="t">Noise power (dBm)</text>
<text transform="translate(370.2,454.1) scale(1,1.030)" text-anchor="middle" class="t" style="font-size:21.9px">Time (ms)</text>
</svg>
</body></html>
